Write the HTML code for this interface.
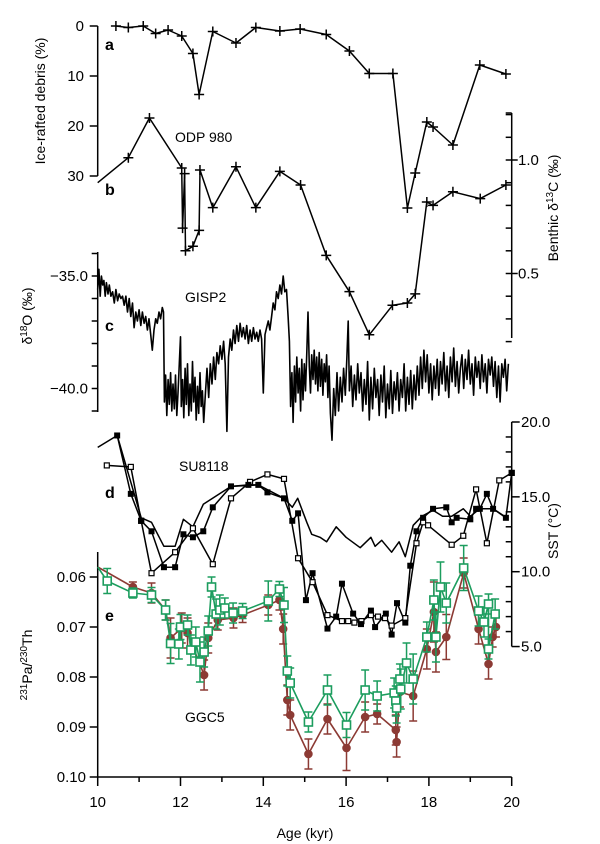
<!DOCTYPE html>
<html><head><meta charset="utf-8">
<style>
html,body{margin:0;padding:0;background:#fff;}
svg{display:block;font-family:"Liberation Sans",Arial,sans-serif;}
</style></head>
<body>
<svg id="chart" width="600" height="844" viewBox="0 0 600 844" xmlns="http://www.w3.org/2000/svg">
<g id="axes" stroke="#000" stroke-width="1.5" fill="none"></g>
<g id="marks"></g>
<g id="texts" font-size="14" fill="#000"></g>
</svg>
<script>
// ---- data ----
const xTicks = [10,12,14,16,18,20];
const iceAge = [10.44,10.74,11.1,11.4,11.7,12.03,12.3,12.45,12.78,13.34,13.82,14.4,14.89,15.52,16.08,16.56,17.13,17.48,17.67,17.95,18.1,18.58,19.23,19.86];
const iceVal = [0,0.3,0,1.5,0.8,2,5.5,13.7,1.1,3.4,0.3,1,0.6,1.7,5,9.5,9.5,36.4,29.4,19.2,20.2,23.8,7.8,9.6];
const iceTicks = [0,10,20,30];
const d13Age = [10.0,10.74,11.25,12.03,12.05,12.1,12.12,12.3,12.45,12.47,12.78,13.34,13.82,14.4,14.9,15.52,16.08,16.56,17.12,17.48,17.67,17.95,18.1,18.58,19.24,19.86];
const d13Val = [0.9,1.01,1.185,0.965,0.70,0.94,0.60,0.62,0.69,0.956,0.79,0.97,0.79,0.95,0.89,0.58,0.42,0.23,0.36,0.37,0.41,0.815,0.80,0.86,0.83,0.89];
const d13Ticks = [1.0,0.5];
const gisp2 = [[10.0,-35.6],[10.03,-34.7],[10.06,-35.9],[10.09,-35.0],[10.12,-35.4],[10.15,-35.2],[10.18,-35.9],[10.21,-35.3],[10.25,-35.8],[10.28,-35.4],[10.32,-35.9],[10.36,-35.7],[10.4,-36.2],[10.44,-35.6],[10.48,-36.1],[10.52,-35.8],[10.56,-36.0],[10.6,-35.9],[10.64,-36.3],[10.68,-35.9],[10.72,-36.6],[10.76,-36.0],[10.8,-36.8],[10.84,-36.2],[10.88,-37.3],[10.92,-36.6],[10.96,-37.0],[11.0,-36.5],[11.04,-37.2],[11.08,-36.6],[11.12,-37.1],[11.16,-36.8],[11.2,-37.4],[11.24,-36.9],[11.28,-37.6],[11.32,-38.3],[11.36,-37.4],[11.4,-36.9],[11.44,-37.1],[11.48,-36.6],[11.52,-36.9],[11.56,-36.4],[11.59,-36.6],[11.61,-40.6],[11.64,-39.4],[11.67,-41.2],[11.7,-39.6],[11.73,-40.7],[11.76,-39.3],[11.79,-41.0],[11.82,-39.8],[11.85,-40.9],[11.88,-39.4],[11.91,-41.2],[11.94,-40.2],[11.97,-38.9],[12.0,-37.7],[12.02,-40.8],[12.05,-39.6],[12.08,-41.3],[12.11,-39.1],[12.14,-40.7],[12.17,-38.9],[12.2,-41.2],[12.23,-39.8],[12.26,-41.0],[12.29,-38.8],[12.32,-40.6],[12.35,-39.5],[12.38,-41.4],[12.41,-39.9],[12.44,-41.1],[12.47,-39.3],[12.5,-40.8],[12.53,-40.1],[12.56,-41.5],[12.6,-40.3],[12.64,-39.1],[12.68,-40.4],[12.72,-38.9],[12.76,-39.8],[12.8,-38.6],[12.84,-39.6],[12.88,-38.4],[12.92,-38.9],[12.96,-38.1],[13.0,-38.7],[13.04,-37.9],[13.08,-38.9],[13.12,-41.9],[13.16,-38.6],[13.2,-37.8],[13.24,-38.3],[13.28,-37.4],[13.32,-38.0],[13.36,-37.2],[13.4,-37.9],[13.44,-37.1],[13.48,-37.7],[13.52,-37.3],[13.56,-37.8],[13.6,-37.2],[13.64,-38.0],[13.68,-37.4],[13.72,-37.9],[13.76,-37.3],[13.8,-37.8],[13.84,-37.5],[13.88,-37.9],[13.92,-37.4],[13.96,-37.8],[14.0,-40.2],[14.04,-37.6],[14.08,-37.3],[14.12,-37.0],[14.16,-37.4],[14.2,-36.8],[14.24,-36.2],[14.28,-36.5],[14.32,-35.7],[14.36,-36.0],[14.4,-35.4],[14.44,-35.8],[14.48,-35.0],[14.52,-35.7],[14.56,-35.6],[14.6,-36.8],[14.63,-37.9],[14.66,-40.8],[14.69,-39.3],[14.72,-41.5],[14.75,-39.0],[14.78,-40.6],[14.81,-38.6],[14.84,-40.2],[14.87,-39.1],[14.9,-41.0],[14.93,-38.7],[14.96,-40.5],[14.99,-38.9],[15.02,-40.1],[15.05,-38.4],[15.08,-36.6],[15.11,-39.0],[15.14,-40.2],[15.17,-38.5],[15.2,-39.6],[15.23,-38.3],[15.26,-39.8],[15.29,-38.6],[15.32,-40.1],[15.35,-38.4],[15.38,-39.9],[15.41,-38.7],[15.44,-40.3],[15.47,-38.9],[15.5,-39.7],[15.53,-38.5],[15.56,-40.4],[15.59,-39.0],[15.62,-41.1],[15.66,-42.3],[15.7,-40.0],[15.74,-41.2],[15.78,-39.3],[15.82,-41.0],[15.86,-39.5],[15.9,-40.6],[15.94,-39.1],[15.98,-40.3],[16.02,-38.6],[16.05,-37.0],[16.08,-40.1],[16.12,-39.0],[16.16,-40.8],[16.2,-39.4],[16.24,-40.5],[16.28,-38.9],[16.32,-40.2],[16.36,-39.3],[16.4,-41.0],[16.44,-39.6],[16.48,-40.7],[16.52,-38.8],[16.56,-41.4],[16.6,-39.5],[16.64,-40.9],[16.68,-39.1],[16.72,-40.4],[16.76,-39.6],[16.8,-41.2],[16.84,-39.4],[16.88,-40.6],[16.92,-39.0],[16.96,-41.3],[17.0,-39.8],[17.04,-40.9],[17.08,-39.2],[17.12,-41.1],[17.16,-39.7],[17.2,-40.5],[17.24,-39.3],[17.28,-41.0],[17.32,-39.6],[17.36,-40.4],[17.4,-38.9],[17.44,-41.0],[17.48,-39.5],[17.52,-40.7],[17.56,-39.2],[17.6,-40.9],[17.64,-39.4],[17.68,-40.5],[17.72,-39.0],[17.76,-40.3],[17.8,-38.6],[17.84,-40.0],[17.88,-38.3],[17.92,-39.7],[17.96,-38.5],[18.0,-40.2],[18.04,-38.9],[18.08,-40.5],[18.12,-39.0],[18.16,-40.0],[18.2,-38.7],[18.24,-40.3],[18.28,-38.8],[18.32,-39.8],[18.36,-38.4],[18.4,-40.1],[18.44,-39.0],[18.48,-40.4],[18.52,-38.6],[18.56,-39.7],[18.6,-38.2],[18.64,-39.9],[18.68,-38.8],[18.72,-40.2],[18.76,-39.1],[18.8,-38.5],[18.84,-40.0],[18.88,-38.7],[18.92,-39.6],[18.96,-38.3],[19.0,-39.8],[19.04,-38.9],[19.08,-40.3],[19.12,-38.6],[19.16,-39.5],[19.2,-38.8],[19.24,-40.0],[19.28,-38.5],[19.32,-39.7],[19.36,-38.9],[19.4,-40.2],[19.44,-38.7],[19.48,-39.4],[19.52,-38.6],[19.56,-39.9],[19.6,-38.8],[19.64,-40.4],[19.68,-39.0],[19.72,-40.6],[19.76,-38.9],[19.8,-39.5],[19.84,-38.7],[19.88,-40.1],[19.92,-38.9]];
const gispTicks = [-35,-40];
const sstFilledAge = [10.47,10.8,11.05,11.3,11.6,11.87,12.07,12.3,12.55,12.78,13.22,13.64,13.88,14.1,14.5,14.7,14.84,15.03,15.19,15.55,15.76,15.9,16.17,16.36,16.6,16.7,16.96,17.1,17.23,17.43,17.55,17.7,17.86,18.1,18.42,18.55,18.67,19.0,19.14,19.23,19.4,19.55,19.86,20.0];
const sstFilledVal = [19.1,15.2,13.4,12.7,10.3,10.3,12.5,12.3,12.7,14.3,15.7,15.8,15.8,15.3,14.9,13.4,13.9,8.1,9.9,6.2,7.0,9.2,7.2,6.5,7.4,6.3,7.2,5.8,7.9,6.6,10.4,12.7,13.6,14.2,14.3,13.3,13.6,13.5,14.2,14.2,15.2,14.2,13.6,16.6];
const sstOpenAge = [10.22,10.8,11.05,11.3,11.87,12.3,12.78,13.22,13.68,14.1,14.5,14.84,15.19,15.55,15.9,16.05,16.2,16.37,16.6,16.77,16.94,17.1,17.43,17.7,17.86,17.98,18.55,18.83,19.14,19.4,19.7,20.0];
const sstOpenVal = [17.1,17.0,13.4,9.9,11.3,12.9,10.5,14.9,16.0,16.5,16.2,10.9,9.3,7.1,6.7,6.7,6.6,6.7,7.1,7.0,6.9,6.4,6.9,11.9,13.3,13.1,11.8,12.4,15.5,11.9,16.1,16.6];
const sstLineAge = [10.0,10.47,11.05,11.3,11.6,11.87,12.07,12.3,12.55,13.22,13.88,14.5,14.7,14.83,15.05,15.17,15.37,15.53,15.76,16.0,16.34,16.6,16.7,16.86,17.1,17.28,17.43,17.62,17.83,18.1,18.33,18.55,18.83,19.0,19.23,19.55,19.88];
const sstLineVal = [18.3,19.1,13.6,13.3,11.7,11.7,13.5,13.0,14.5,15.7,15.8,14.9,14.3,14.9,13.3,12.5,12.3,12.0,13.0,12.3,11.6,12.3,11.7,12.1,11.3,12.0,11.0,13.1,13.7,14.1,13.7,13.7,14.2,13.7,14.2,14.2,13.6];
const sstTicks = [20,15,10,5];
const paGreenAge = [10.0,10.23,10.85,11.3,11.64,11.76,11.96,12.0,12.17,12.25,12.37,12.47,12.57,12.67,12.75,12.86,12.95,13.07,13.27,13.5,14.12,14.39,14.5,14.58,14.65,15.09,15.55,16.01,16.46,16.75,17.16,17.2,17.22,17.3,17.32,17.46,17.62,17.95,18.12,18.17,18.28,18.42,18.84,19.2,19.33,19.44,19.44,19.6];
const paGreenVal = [0.058,0.0608,0.0632,0.0636,0.0666,0.0733,0.0734,0.070,0.0696,0.0746,0.073,0.077,0.075,0.0708,0.062,0.0674,0.0666,0.0662,0.0672,0.0668,0.0648,0.0624,0.0656,0.0788,0.0812,0.089,0.0826,0.0896,0.0826,0.0838,0.0832,0.0848,0.0862,0.0804,0.0824,0.0772,0.0804,0.072,0.0646,0.072,0.062,0.0652,0.0582,0.0668,0.069,0.0654,0.0744,0.0674];
const paGreenErr = [0,0.0025,0.001,0.0015,0.002,0.004,0.003,0.0025,0.002,0.003,0.003,0.004,0.003,0.003,0.002,0.003,0.003,0.002,0.002,0.0015,0.004,0.0015,0.0035,0.003,0.003,0.002,0.003,0.0025,0.004,0.003,0.003,0.003,0.003,0.003,0.004,0.004,0.005,0.003,0.004,0.005,0.005,0.004,0.0045,0.003,0.003,0.002,0.002,0.003];
const paRedAge = [10.0,10.85,11.3,11.64,11.76,12.03,12.17,12.57,12.67,12.9,13.28,13.5,14.12,14.39,14.48,14.58,14.65,15.09,15.55,16.01,16.46,16.75,17.2,17.22,17.3,17.62,17.95,18.12,18.17,18.42,18.84,19.2,19.44,19.54,19.62];
const paRedVal = [0.058,0.062,0.0632,0.0666,0.0722,0.0702,0.0712,0.0796,0.0722,0.0686,0.0682,0.0676,0.0656,0.0646,0.0704,0.0846,0.0876,0.0954,0.0884,0.0942,0.0880,0.0874,0.0906,0.093,0.083,0.0838,0.0744,0.067,0.075,0.072,0.0592,0.0704,0.0774,0.072,0.070];
const paRedErr = [0,0.001,0.002,0.002,0.004,0.003,0.003,0.003,0.003,0.002,0.002,0.0015,0.002,0.002,0.003,0.003,0.003,0.003,0.003,0.0045,0.003,0.002,0.003,0.003,0.003,0.005,0.004,0.006,0.004,0.0045,0.003,0.003,0.003,0.002,0.002];
const paTicks = [0.06,0.07,0.08,0.09,0.10];

// ---- scales ----
const X0=97.7, X1=511.7;
const xS = a => X0 + (a-10)*(X1-X0)/10;
const yIce = v => 26 + v*5;
const yD13 = v => 160 + (1.0-v)*227;
const yGisp = v => 276 + (-35-v)*22.5;
const ySst = v => 422 + (20-v)*14.97;
const yPa = v => 577 + (v-0.06)*5000;

const NS="http://www.w3.org/2000/svg";
const axes=document.getElementById('axes'), marks=document.getElementById('marks'), texts=document.getElementById('texts');
function mk(tag, parent, attrs){const e=document.createElementNS(NS,tag);for(const k in attrs)e.setAttribute(k,attrs[k]);parent.appendChild(e);return e;}
function line(p,x1,y1,x2,y2){return mk('line',p,{x1:x1,y1:y1,x2:x2,y2:y2});}
function txt(s,x,y,anchor,extra){const t=mk('text',texts,Object.assign({x:x,y:y,'text-anchor':anchor||'start'},extra||{}));t.textContent=s;return t;}

// ---- axes ----
// bottom x axis
let g=mk('g',axes,{});


line(g,X0,777,X1,777);
for(let a=10;a<=20;a++){const maj=a%2===0;line(g,xS(a),777,xS(a),maj?786:782);}
xTicks.forEach(a=>{const t=txt(String(a),xS(a),807,'middle',{'font-size':'15'});});
let xt=txt('Age (kyr)',305,838,'middle',{'font-size':'14'});



// panel a left axis
g=mk('g',axes,{});


line(g,X0,26,X0,176);
iceTicks.forEach(v=>{line(g,X0-8,yIce(v),X0,yIce(v));const t=txt(String(v),84,yIce(v)+5,'end',{'font-size':'15'});});

// panel b right axis
g=mk('g',axes,{});


line(g,X1,113,X1,338);
for(let v=1.2;v>=0.19;v-=0.1){line(g,X1-6,yD13(v),X1,yD13(v));}
line(g,X1,113,X1-6,113);
d13Ticks.forEach(v=>{line(g,X1,yD13(v),X1+6,yD13(v));const t=txt(v.toFixed(1),518,yD13(v)+5,'start',{'font-size':'15'});});

// panel c left axis
g=mk('g',axes,{});


line(g,X0,252,X0,412);
for(let v=-34;v>=-41;v--){line(g,X0-6,yGisp(v),X0,yGisp(v));}
gispTicks.forEach(v=>{const t=txt('\u2212'+Math.abs(v).toFixed(1),88,yGisp(v)+5,'end',{'font-size':'15'});});

// panel d right axis
g=mk('g',axes,{});


line(g,X1,ySst(20),X1,ySst(5));
for(let v=20;v>=5;v--){if(v%5)line(g,X1-6,ySst(v),X1,ySst(v));}
sstTicks.forEach(v=>{line(g,X1,ySst(v),X1+8,ySst(v));const t=txt(v.toFixed(1),521,ySst(v)+5,'start',{'font-size':'15'});});

// panel e left axis
g=mk('g',axes,{});


line(g,X0,552,X0,777);
paTicks.forEach(v=>{line(g,X0-8,yPa(v),X0,yPa(v));const t=txt(v.toFixed(2),86,yPa(v)+5,'end',{'font-size':'15'});});

// ---- marks ----
function polyline(xs,ys,color,w,name){const pts=xs.map((x,i)=>x.toFixed(1)+','+ys[i].toFixed(1)).join(' ');const p=mk('polyline',marks,{points:pts,fill:'none',stroke:color,'stroke-width':w,'stroke-linejoin':'round'});return p;}
function cross(x,y,name){const p=mk('path',marks,{d:`M${x-5},${y}H${x+5}M${x},${y-5}V${y+5}`,stroke:'#000','stroke-width':1.5});}

// a
polyline(iceAge.map(xS),iceVal.map(yIce),'#000',1.5,'ice-rafted-line');
iceAge.forEach((a,i)=>cross(xS(a),yIce(iceVal[i]),'ice-rafted-point'));
// b
polyline(d13Age.map(xS),d13Val.map(yD13),'#000',1.5,'benthic-line');
d13Age.forEach((a,i)=>{if(i>0)cross(xS(a),yD13(d13Val[i]),'benthic-point');});
// c
polyline(gisp2.map(p=>xS(p[0])),gisp2.map(p=>yGisp(p[1])),'#000',1.6,'gisp2-line');
// d
polyline(sstLineAge.map(xS),sstLineVal.map(ySst),'#000',1.5,'sst-plain-line');
polyline(sstOpenAge.map(xS),sstOpenVal.map(ySst),'#000',1.5,'sst-open-line');
polyline(sstFilledAge.map(xS),sstFilledVal.map(ySst),'#000',1.5,'sst-filled-line');
sstOpenAge.forEach((a,i)=>{const r=mk('rect',marks,{x:xS(a)-2.5,y:ySst(sstOpenVal[i])-2.5,width:5,height:5,fill:'#fff',stroke:'#000','stroke-width':1.2});});
sstFilledAge.forEach((a,i)=>{const r=mk('rect',marks,{x:xS(a)-3,y:ySst(sstFilledVal[i])-3,width:6,height:6,fill:'#000'});});
// e
const RED='#8c3a34', GREEN='#1c9d5e';
function errBars(ages,vals,errs,color,name){ages.forEach((a,i)=>{if(!errs[i])return;const x=xS(a),y1=yPa(vals[i]-errs[i]),y2=yPa(vals[i]+errs[i]);const p=mk('path',marks,{d:`M${x},${y1}V${y2}M${x-4},${y1}H${x+4}M${x-4},${y2}H${x+4}`,stroke:color,'stroke-width':1.5,fill:'none'});});}
errBars(paRedAge,paRedVal,paRedErr,RED,'pa-red-error-bar');
polyline(paRedAge.map(xS),paRedVal.map(yPa),RED,1.6,'pa-red-line');
paRedAge.forEach((a,i)=>{if(i===0)return;const c=mk('circle',marks,{cx:xS(a),cy:yPa(paRedVal[i]),r:4.3,fill:RED});});
errBars(paGreenAge,paGreenVal,paGreenErr,GREEN,'pa-green-error-bar');
polyline(paGreenAge.map(xS),paGreenVal.map(yPa),GREEN,1.6,'pa-green-line');
paGreenAge.forEach((a,i)=>{if(i===0)return;const r=mk('rect',marks,{x:xS(a)-4,y:yPa(paGreenVal[i])-4,width:8,height:8,fill:'#fff',stroke:GREEN,'stroke-width':1.6});});

// ---- labels ----
function lab(s,x,y,name,attrs){const t=txt(s,x,y,'start',attrs);return t;}
lab('a',105,50,'panel-a-label',{'font-weight':'bold','font-size':'16'});
lab('b',105,195,'panel-b-label',{'font-weight':'bold','font-size':'16'});
lab('c',105,331,'panel-c-label',{'font-weight':'bold','font-size':'16'});
lab('d',105,498,'panel-d-label',{'font-weight':'bold','font-size':'16'});
lab('e',105,621,'panel-e-label',{'font-weight':'bold','font-size':'16'});
lab('ODP 980',175,142,'odp980-label',{'font-size':'14'});
lab('GISP2',185,302,'gisp2-label',{'font-size':'14'});
lab('SU8118',179,471,'su8118-label',{'font-size':'14'});
lab('GGC5',185,722,'ggc5-label',{'font-size':'14'});
function vtitle(x,y,name){const t=mk('text',texts,{x:0,y:0,'text-anchor':'middle','font-size':'14',transform:`translate(${x},${y}) rotate(-90)`});return t;}
vtitle(45,101,'ice-rafted-axis-title').textContent='Ice-rafted debris (%)';
let t2=vtitle(558,208,'benthic-axis-title');t2.innerHTML='Benthic δ<tspan font-size="10" dy="-5">13</tspan><tspan dy="5">C (‰)</tspan>';
let t3=vtitle(32,316,'gisp2-axis-title');t3.innerHTML='δ<tspan font-size="10" dy="-5">18</tspan><tspan dy="5">O (‰)</tspan>';
vtitle(558,531,'sst-axis-title').textContent='SST  (°C)';
let t5=vtitle(32,665,'pa-th-axis-title');t5.innerHTML='<tspan font-size="10" dy="-5">231</tspan><tspan dy="5">Pa/</tspan><tspan font-size="10" dy="-5">230</tspan><tspan dy="5">Th</tspan>';
</script>
</body></html>
